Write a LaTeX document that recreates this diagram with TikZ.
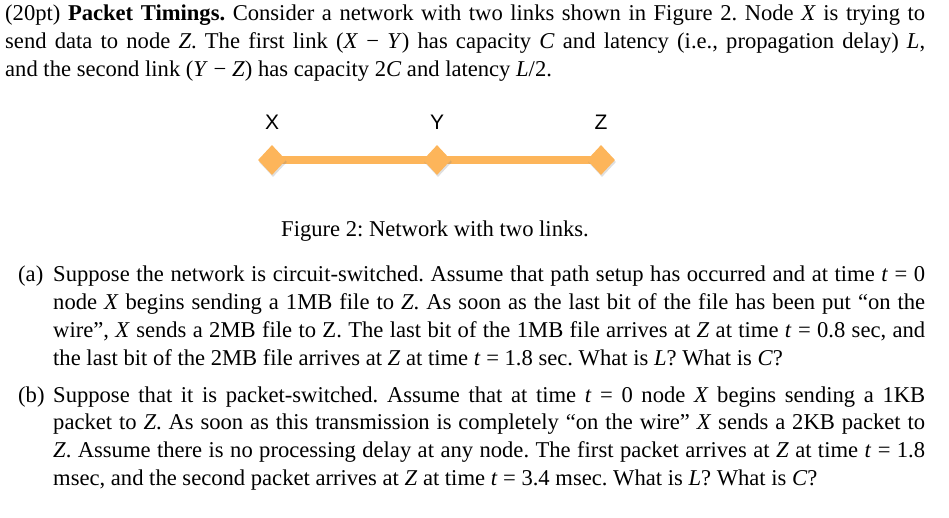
\documentclass[tikz,border=0pt]{standalone}
\usepackage{fontspec}
\setmainfont{Liberation Serif}
\setsansfont{Liberation Sans}
\usetikzlibrary{shapes.geometric,shadows}
\definecolor{link}{HTML}{FDB55A}
\tikzset{
  para/.style={anchor=base west, align=justify, inner sep=0pt, font=\frenchspacing\fontsize{22.6}{27.8}\selectfont},
  lbl/.style={font=\sffamily\fontsize{21}{24}\selectfont, anchor=base, inner sep=0pt},
  dia/.style={diamond, fill=link, minimum width=28pt, minimum height=30pt, inner sep=0pt, drop shadow={opacity=0.25, shadow xshift=1pt, shadow yshift=-2pt}},
}
\newcommand{\vv}[1]{\textit{#1}}
\begin{document}
\begin{tikzpicture}[x=1pt,y=1pt]
\useasboundingbox (0,0) rectangle (949,-518);
\node[para, text width=920pt] (p1) at (5,-21) {(20pt) \textbf{Packet Timings.} Consider a network with two links shown in Figure 2. Node \vv{X} is trying to\linebreak send data to node \vv{Z}. The first link (\vv{X} − \vv{Y}) has capacity \vv{C} and latency (i.e., propagation delay) \vv{L},\linebreak and the second link (\vv{Y} − \vv{Z}) has capacity 2\vv{C} and latency \vv{L}/2.};
\node[lbl] (lx) at (272,-130) {X};
\node[lbl] (ly) at (437,-130) {Y};
\node[lbl] (lz) at (601,-130) {Z};
\coordinate (cx) at (272,-160);
\coordinate (cy) at (437,-160);
\coordinate (cz) at (601,-160);
\draw[link, line width=8pt] (cx) -- (cz);
\node[dia] (dx) at (cx) {};
\node[dia] (dy) at (cy) {};
\node[dia] (dz) at (cz) {};
\node[para, anchor=base] (cap) at (435,-237) {Figure 2: Network with two links.};
\node[para] (la) at (18,-282) {(a)};
\node[para, text width=872pt] (pa) at (53,-282) {Suppose the network is circuit-switched. Assume that path setup has occurred and at time \vv{t} = 0\linebreak node \vv{X} begins sending a 1MB file to \vv{Z}. As soon as the last bit of the file has been put “on the\linebreak wire”, \vv{X} sends a 2MB file to Z. The last bit of the 1MB file arrives at \vv{Z} at time \vv{t} = 0.8 sec, and\linebreak the last bit of the 2MB file arrives at \vv{Z} at time \vv{t} = 1.8 sec. What is \vv{L}? What is \vv{C}?};
\node[para] (lb) at (18,-402) {(b)};
\node[para, text width=872pt] (pb) at (53,-402) {Suppose that it is packet-switched. Assume that at time \vv{t} = 0 node \vv{X} begins sending a 1KB\linebreak packet to \vv{Z}. As soon as this transmission is completely “on the wire” \vv{X} sends a 2KB packet to\linebreak \vv{Z}. Assume there is no processing delay at any node. The first packet arrives at \vv{Z} at time \vv{t} = 1.8\linebreak msec, and the second packet arrives at \vv{Z} at time \vv{t} = 3.4 msec. What is \vv{L}? What is \vv{C}?};
\end{tikzpicture}
\end{document}
